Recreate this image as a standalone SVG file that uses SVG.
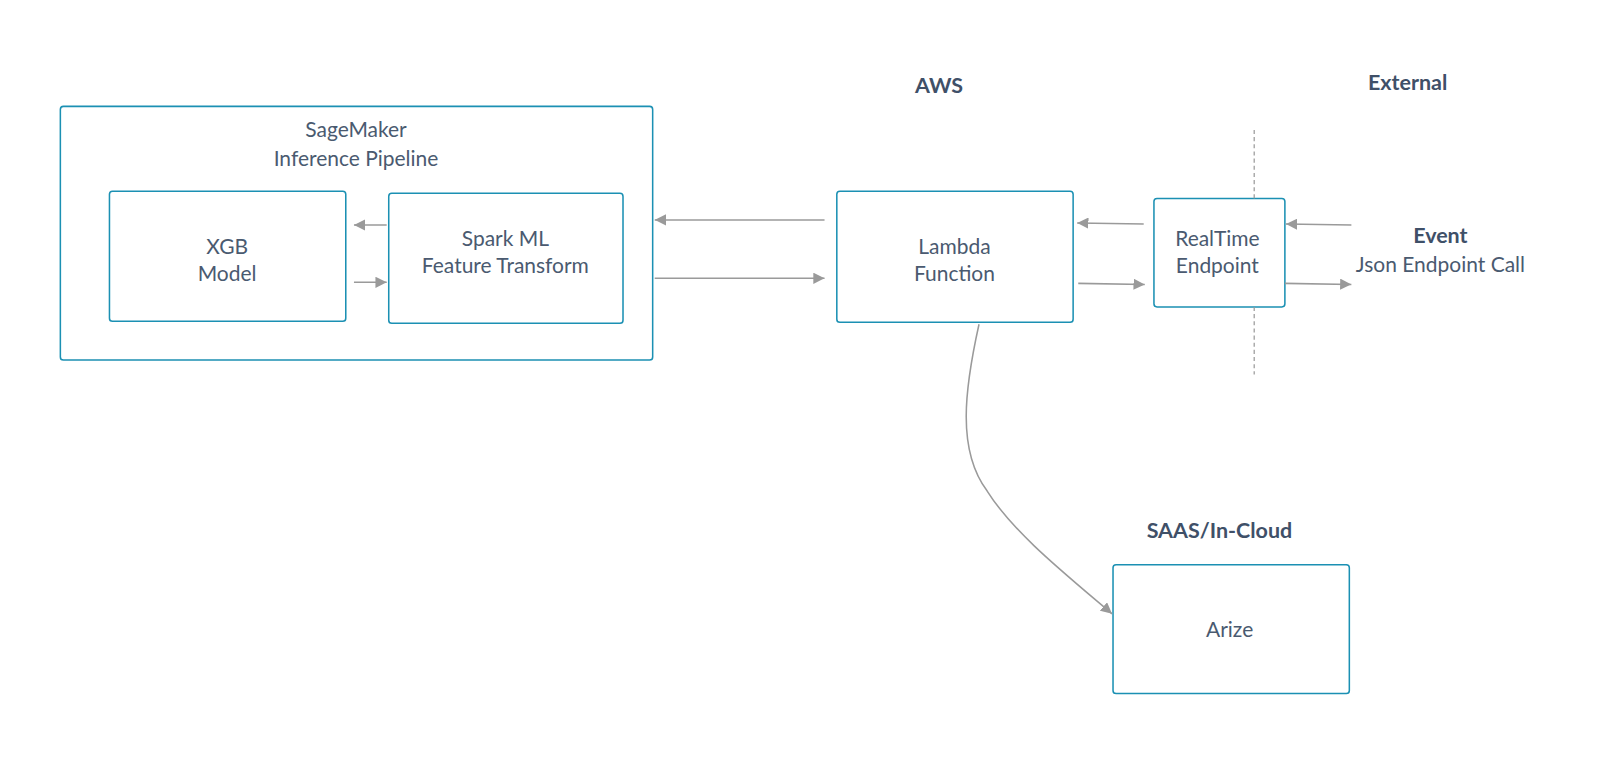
<svg xmlns="http://www.w3.org/2000/svg" width="1604" height="782" viewBox="0 0 1604 782">
<style>
.box{fill:#fff;stroke:#1b90b3;stroke-width:1.5}
.t{font-family:Lato,"Open Sans",sans-serif;font-size:20.5px;fill:#4a5a70;text-anchor:middle}
.b{font-family:Lato,"Open Sans",sans-serif;font-size:21px;font-weight:bold;fill:#3f5068;text-anchor:middle}
.c{fill:none;stroke:#9a9a9a;stroke-width:1.5}
</style>
<defs>
<marker id="ah" viewBox="0 0 10 10" refX="10" refY="5" markerWidth="11" markerHeight="11" markerUnits="userSpaceOnUse" orient="auto">
<path d="M0,0L10,5L0,10z" fill="#9a9a9a"/>
</marker>
</defs>
<rect width="1604" height="782" fill="#fff"/>
<g transform="scale(1.023)">
<g id="labels">
<text class="b" x="918" y="91">AWS</text>
<text class="b" x="1376" y="88">External</text>
<text class="b" x="1192" y="526">SAAS/In-Cloud</text>
</g>
<g id="pipeline">
<rect class="box" x="59" y="104" width="579" height="248" rx="3"/>
<text class="t" x="348" y="134">SageMaker</text>
<text class="t" x="348" y="162">Inference Pipeline</text>
</g>
<g id="xgb">
<rect class="box" x="107" y="187" width="231" height="127" rx="3"/>
<text class="t" x="222" y="248">XGB</text>
<text class="t" x="222" y="275">Model</text>
</g>
<g id="spark">
<rect class="box" x="380" y="189" width="229" height="127" rx="3"/>
<text class="t" x="494" y="240">Spark ML</text>
<text class="t" x="494" y="267">Feature Transform</text>
</g>
<g id="lambda">
<rect class="box" x="818" y="187" width="231" height="128" rx="3"/>
<text class="t" x="933" y="248">Lambda</text>
<text class="t" x="933" y="275">Function</text>
</g>
<g id="realtime">
<rect class="box" x="1128" y="194" width="128" height="106" rx="3"/>
<text class="t" x="1190" y="240">RealTime</text>
<text class="t" x="1190" y="267">Endpoint</text>
</g>
<g id="event">
<text class="b" x="1408" y="238">Event</text>
<text class="t" x="1408" y="266">Json Endpoint Call</text>
</g>
<g id="arize">
<rect class="box" x="1088" y="552" width="231" height="126" rx="3"/>
<text class="t" x="1202" y="623">Arize</text>
</g>
<g id="connectors">
<line x1="1226" y1="127" x2="1226" y2="194" stroke="#999" stroke-width="1.2" stroke-dasharray="4,3"/>
<line x1="1226" y1="300" x2="1226" y2="366" stroke="#999" stroke-width="1.2" stroke-dasharray="4,3"/>
<line class="c" x1="378" y1="220" x2="346" y2="220" marker-end="url(#ah)"/>
<line class="c" x1="346" y1="276" x2="378" y2="276" marker-end="url(#ah)"/>
<line class="c" x1="806" y1="215" x2="640" y2="215" marker-end="url(#ah)"/>
<line class="c" x1="640" y1="272" x2="806" y2="272" marker-end="url(#ah)"/>
<line class="c" x1="1118" y1="219" x2="1053" y2="218" marker-end="url(#ah)"/>
<line class="c" x1="1054" y1="277" x2="1119" y2="278" marker-end="url(#ah)"/>
<line class="c" x1="1321" y1="220" x2="1257" y2="219" marker-end="url(#ah)"/>
<line class="c" x1="1256" y1="277" x2="1321" y2="278" marker-end="url(#ah)"/>
<path class="c" d="M957,317 C943,380 935,440 965,480 C990,520 1040,560 1087,600" marker-end="url(#ah)"/>
</g>
</g>
</svg>
